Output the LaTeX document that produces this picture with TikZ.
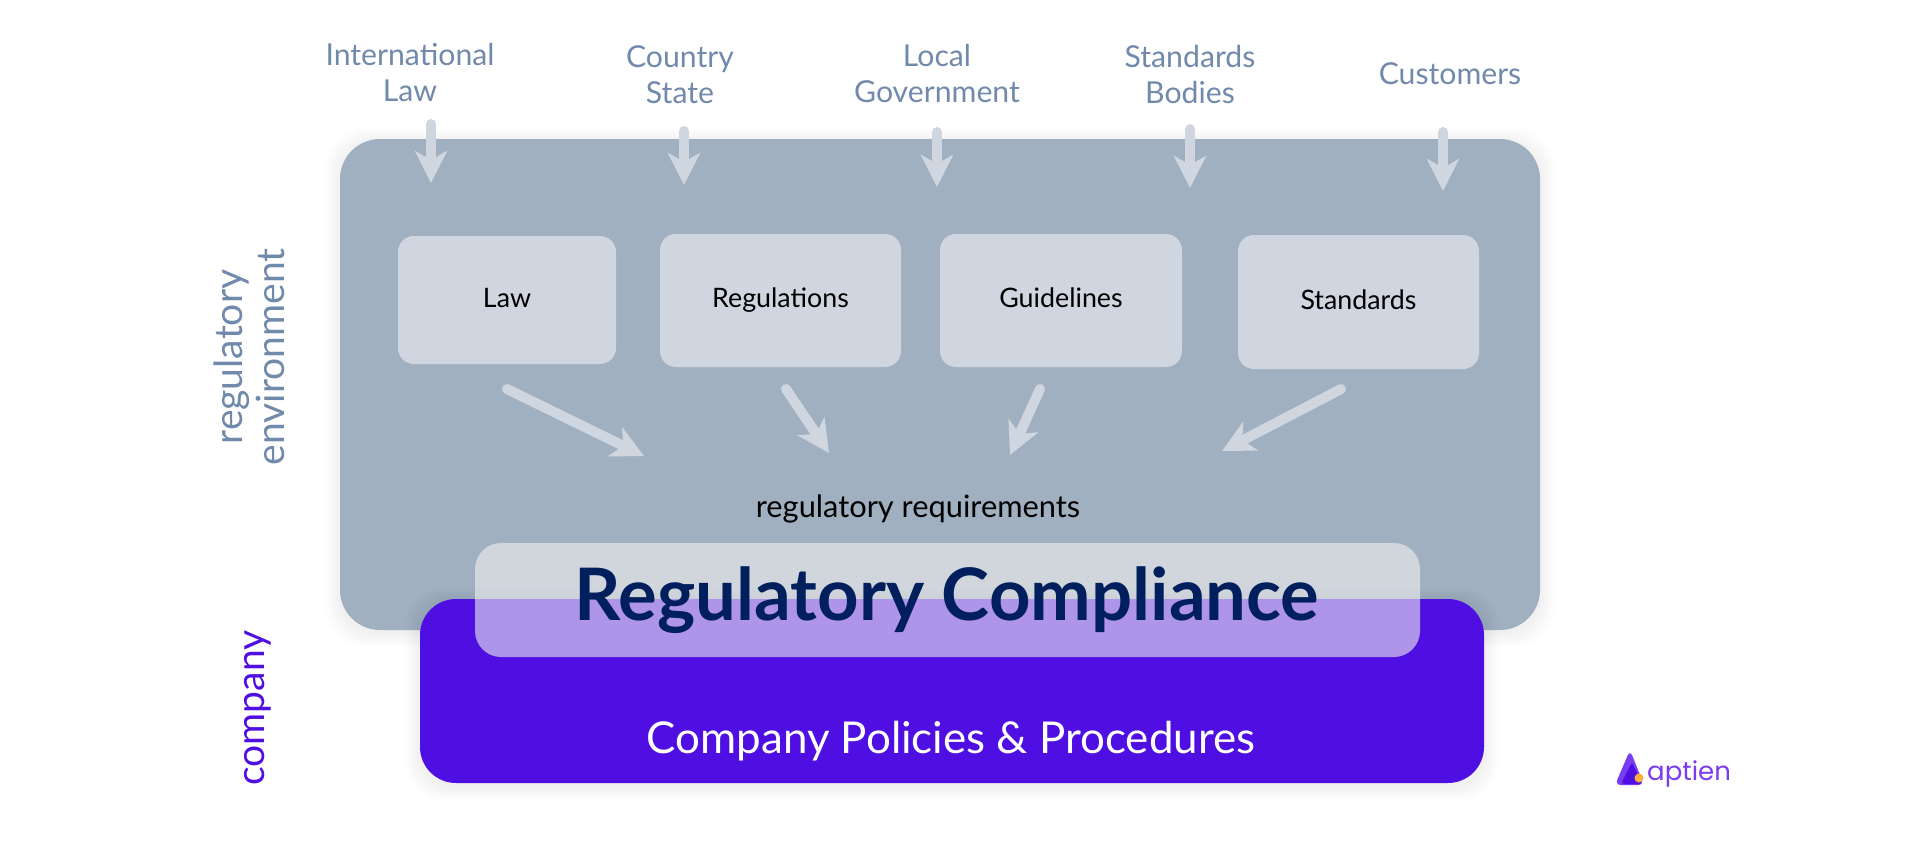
\documentclass[tikz,border=0pt]{standalone}
\usepackage{fontspec}
\setmainfont{Lato}
\newfontfamily\logofont{Poppins}
\usetikzlibrary{arrows.meta}
\definecolor{envgray}{HTML}{A1B0C0}
\definecolor{lightbox}{HTML}{D0D6E0}
\definecolor{labelblue}{HTML}{7189AB}
\definecolor{brandpurple}{HTML}{4F0EE2}
\definecolor{darknavy}{HTML}{001F5C}
\definecolor{logoorange}{HTML}{FBB03B}
\definecolor{logolight}{HTML}{7A3CF0}
\newcommand{\softshadow}[5]{% x0 y0 x1 y1 radius
  \foreach \g in {2,4,...,14}{
    \fill[black,opacity=0.006,rounded corners=#5pt] (#1-\g,#2-\g+3) rectangle (#3+\g,#4+\g+3);
  }}
\tikzset{
  x=1pt,y=-1pt,
  srclabel/.style={text=labelblue,font=\fontsize{30.2}{36}\selectfont,align=center,inner sep=0pt},
  sidelabel/.style={font=\fontsize{39}{42}\selectfont,align=center,inner sep=0pt,rotate=90},
  docbox/.style={fill=lightbox,rounded corners=16pt,text=black,font=\fontsize{26.8}{30}\selectfont,align=center,inner sep=0pt,text height=20pt,text depth=6pt},
  flow/.style={draw=lightbox,line width=10pt,line cap=round,-{Stealth[length=32pt,width=32pt,inset=9pt]}},
}
\begin{document}
\begin{tikzpicture}
\useasboundingbox (0,0) rectangle (1920,846);
\fill[white] (0,0) rectangle (1920,846);
% environment panel
\softshadow{340}{139}{1540}{630}{40}
\fill[envgray,rounded corners=40pt] (340,139) rectangle (1540,630);
% company panel
\softshadow{420}{599}{1484}{783}{36}
\fill[brandpurple,rounded corners=36pt] (420,599) rectangle (1484,783);
% compliance band
\fill[fill=white!94!black,fill opacity=0.6,rounded corners=26pt] (475,543) rectangle (1420,657);
% boxes
\node[docbox,minimum width=218pt,minimum height=128pt] (law) at (507,300) {Law};
\node[docbox,minimum width=241pt,minimum height=133pt] (regs) at (780.5,300.5) {Regulations};
\node[docbox,minimum width=242pt,minimum height=133pt] (guide) at (1061,300.5) {Guidelines};
\node[docbox,minimum width=241pt,minimum height=134pt] (stds) at (1358.5,302) {Standards};
% source labels
\node[srclabel] (intl) at (410,72) {International\\Law};
\node[srclabel] (country) at (680,75) {Country\\State};
\node[srclabel] (local) at (937,73) {Local\\Government};
\node[srclabel] (bodies) at (1190,74) {Standards\\Bodies};
\node[srclabel] (cust) at (1450,74) {Customers};
% arrow ends
\coordinate (a1s) at (431,124); \coordinate (a1e) at (431,183);
\coordinate (a2s) at (684,131); \coordinate (a2e) at (684,185);
\coordinate (a3s) at (937,132); \coordinate (a3e) at (937,187);
\coordinate (a4s) at (1190,129); \coordinate (a4e) at (1190,188);
\coordinate (a5s) at (1443,132); \coordinate (a5e) at (1443,191);
\coordinate (b1s) at (507,389); \coordinate (b1e) at (644,456);
\coordinate (b2s) at (786,389); \coordinate (b2e) at (829,453);
\coordinate (b3s) at (1040,389); \coordinate (b3e) at (1010,455);
\coordinate (b4s) at (1341,389); \coordinate (b4e) at (1222,451);
\draw[flow] (a1s) -- (a1e);
\draw[flow] (a2s) -- (a2e);
\draw[flow] (a3s) -- (a3e);
\draw[flow] (a4s) -- (a4e);
\draw[flow] (a5s) -- (a5e);
\draw[flow] (b1s) -- (b1e);
\draw[flow] (b2s) -- (b2e);
\draw[flow] (b3s) -- (b3e);
\draw[flow] (b4s) -- (b4e);
% texts
\node[inner sep=0pt,font=\fontsize{30.8}{34}\selectfont,text=black] (req) at (918,509) {regulatory requirements};
\node[inner sep=0pt,font=\fontsize{72.4}{80}\bfseries\selectfont,text=darknavy] (rc) at (947,600) {Regulatory Compliance};
\node[inner sep=0pt,font=\fontsize{43.9}{48}\selectfont,text=white] (cpp) at (951,741) {Company Policies \& Procedures};
\node[sidelabel,text=labelblue] (envlbl) at (249,357) {regulatory\\environment};
\node[sidelabel,text=brandpurple] (comp) at (258,708) {company};
% logo
\fill[logolight,rounded corners=6pt] (1615,785) -- (1630,750) -- (1644,785) -- cycle;
\fill[brandpurple,rounded corners=3pt] (1621,784) -- (1632,762) -- (1642,784) -- cycle;
\fill[logoorange] (1639,778) circle (4.5);
\node[inner sep=0pt,anchor=base west,text=logolight,font=\logofont\fontsize{26}{30}\selectfont] (logo) at (1647,780) {aptien};
\end{tikzpicture}
\end{document}
